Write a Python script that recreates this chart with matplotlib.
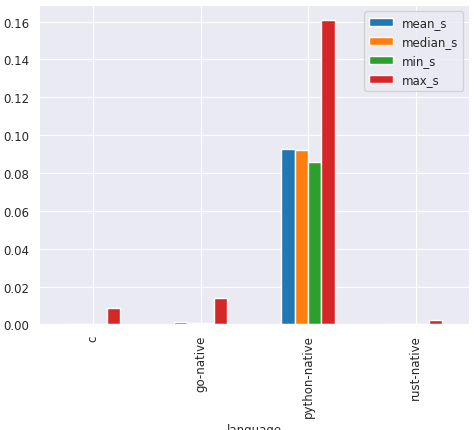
import matplotlib
matplotlib.use("Agg")
import matplotlib.pyplot as plt
import seaborn as sns
import pandas as pd

sns.set_style("darkgrid")
plt.rcParams["font.size"] = 8.5

languages = ["c", "go-native", "python-native", "rust-native"]
mean_s = [0.0003, 0.0012, 0.0925, 0.0003]
median_s = [0.0002, 0.0010, 0.0920, 0.0002]
min_s = [0.0001, 0.0007, 0.0860, 0.0001]
max_s = [0.0085, 0.0140, 0.1610, 0.0025]

df = pd.DataFrame({"mean_s": mean_s, "median_s": median_s, "min_s": min_s, "max_s": max_s},
                  index=pd.Index(languages, name="language"))

fig, ax = plt.subplots(figsize=(4.74, 4.31), dpi=100)
df.plot.bar(ax=ax)
ax.set_ylim(0, 0.1685)
ax.set_yticks([0.0, 0.02, 0.04, 0.06, 0.08, 0.1, 0.12, 0.14, 0.16])
ax.legend(loc="upper right")
fig.subplots_adjust(left=0.083, right=0.99, top=0.985, bottom=0.245)
fig.savefig("out.png", dpi=100)
